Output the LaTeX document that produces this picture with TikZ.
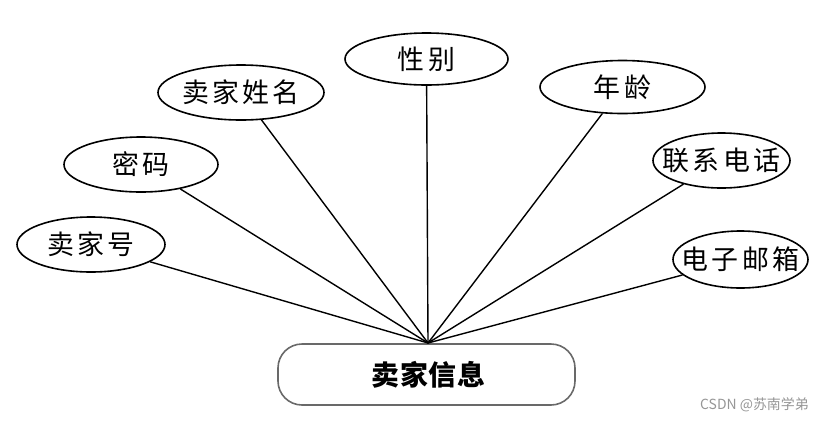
\documentclass[tikz,border=0pt]{standalone}
\usepackage{fontspec}
\newfontfamily\cjk[LetterSpace=12]{Noto Sans CJK SC}
\newfontfamily\cjkc[LetterSpace=3]{Noto Sans CJK SC}
\newfontfamily\cjkw{Noto Sans CJK SC}
\usetikzlibrary{shapes.geometric}
\definecolor{rectgray}{RGB}{105,105,105}
\definecolor{wmgray}{RGB}{150,150,150}
\newcommand{\zw}[1]{\makebox[0pt][c]{#1}}
\begin{document}
\begin{tikzpicture}[x=1bp,y=-1bp,
  attr/.style={ellipse,draw=black,line width=1.6bp,inner sep=0pt,font=\cjk\fontsize{27}{30}\selectfont},
  entity/.style={rectangle,rounded corners=24bp,draw=rectgray,line width=1.6bp,minimum width=297bp,minimum height=61bp,font=\cjkc\bfseries\fontsize{28}{31}\selectfont},
  link/.style={line width=1.4bp}]
\useasboundingbox (0,0) rectangle (823,423);
\node[entity] (E) at (426.5,374.5) {\zw{\hspace{4bp}卖家信息}};
\coordinate (H) at (428,343);
\node[attr,minimum width=148bp,minimum height=55bp] (a1) at (91,244.5) {\zw{卖家号}};
\node[attr,minimum width=154bp,minimum height=55bp] (a2) at (141,164.5) {\zw{密码}};
\node[attr,minimum width=166bp,minimum height=55bp] (a3) at (241,92.5) {\zw{卖家姓名}};
\node[attr,minimum width=163bp,minimum height=52bp] (a4) at (426.5,59) {\zw{性别}};
\node[attr,minimum width=165bp,minimum height=53bp] (a5) at (622.5,87) {\zw{年龄}};
\node[attr,minimum width=137bp,minimum height=55bp] (a6) at (721.5,160.5) {\zw{联系电话}};
\node[attr,minimum width=135bp,minimum height=57bp] (a7) at (740.5,259.5) {\zw{电子邮箱}};
\foreach \n in {a1,a2,a3,a4,a5,a6,a7} \draw[link] (H) -- (\n);
\node[text=wmgray,font=\cjkw\fontsize{14}{16}\selectfont,inner sep=0pt,anchor=east] (wm) at (809,405) {CSDN @苏南学弟};
\end{tikzpicture}
\end{document}
